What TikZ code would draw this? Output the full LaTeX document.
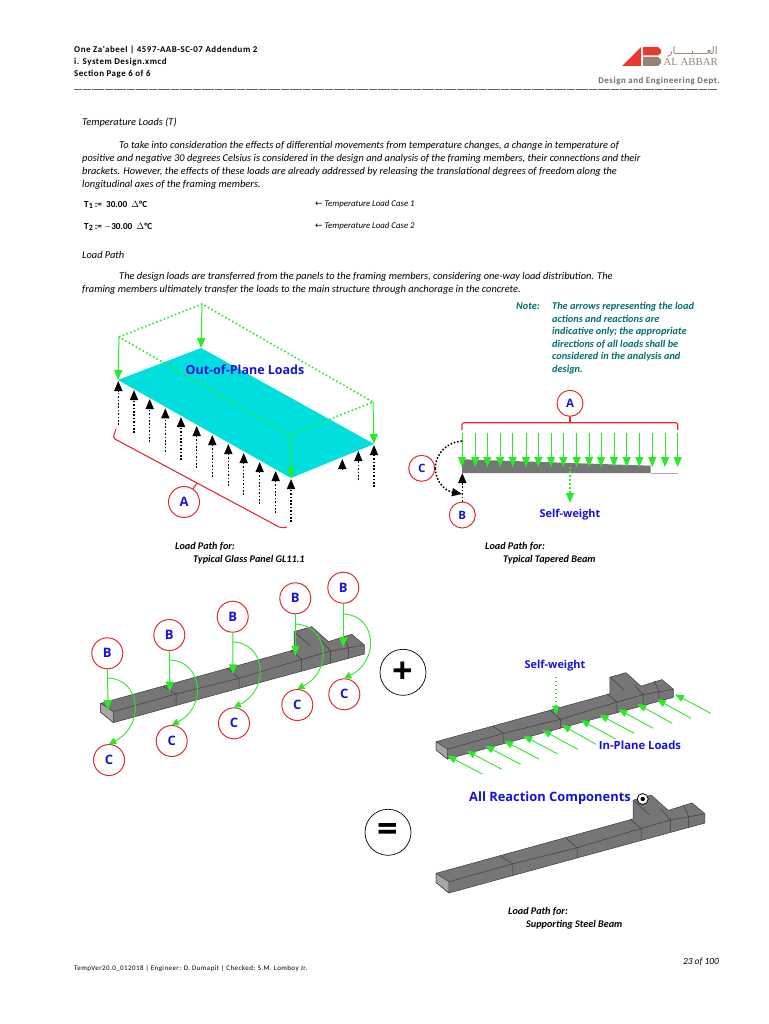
\documentclass[tikz,border=0pt]{standalone}
\usepackage{fontspec}
\usepackage{amsmath}
\usetikzlibrary{arrows.meta}
\setmainfont{Carlito}
\newfontfamily\headfont[LetterSpace=6]{Carlito}
\newfontfamily\labelfont{Open Sans}
\newfontfamily\logofont{Liberation Serif}
\newfontfamily\symfont{DejaVu Sans}
\newfontfamily\arabicfont[Script=Arabic]{DejaVu Sans}
\TeXXeTstate=1
\definecolor{inkblue}{RGB}{20,20,215}
\definecolor{bubblered}{RGB}{225,45,45}
\definecolor{loadgreen}{RGB}{40,235,40}
\definecolor{panelcyan}{RGB}{0,222,222}
\definecolor{steelgrey}{RGB}{118,118,118}
\definecolor{steelline}{RGB}{60,60,60}
\definecolor{noteteal}{RGB}{0,112,112}
\definecolor{logored}{RGB}{232,58,48}
\definecolor{logobrown}{RGB}{150,130,118}
\definecolor{depthint}{RGB}{110,110,110}
\tikzset{
  bodytext/.style={anchor=west, inner sep=0pt, yshift=-1pt, font=\fontsize{10.4}{12}\selectfont\itshape},
  headtext/.style={anchor=west, inner sep=0pt, yshift=-1pt, font=\fontsize{8.9}{10}\headfont\bfseries},
  calctext/.style={anchor=west, inner sep=0pt, font=\fontsize{9.2}{10}\selectfont\bfseries},
  casetext/.style={anchor=west, inner sep=0pt, yshift=-1pt, font=\fontsize{8.8}{10}\selectfont\itshape},
  notetext/.style={anchor=west, inner sep=0pt, yshift=-1pt, text=noteteal, font=\fontsize{10.3}{12}\selectfont\itshape\bfseries},
  pathtext/.style={anchor=west, inner sep=0pt, yshift=-1pt, font=\fontsize{10.2}{12}\selectfont\itshape\bfseries},
  bluetext/.style={inner sep=0pt, text=inkblue, font=\fontsize{10.9}{12}\labelfont\bfseries},
  bubble/.style={circle, draw=bubblered, line width=1pt, fill=white, minimum size=31pt, inner sep=0pt, text=inkblue, font=\fontsize{13}{14}\labelfont\bfseries},
  smallbubble/.style={bubble, minimum size=26pt, font=\fontsize{11.5}{12}\labelfont\bfseries},
  signcircle/.style={circle, draw=black, line width=0.7pt, minimum size=46pt, inner sep=0pt, font=\fontsize{36}{36}\labelfont\bfseries},
  redline/.style={draw=bubblered, line width=1.1pt, rounded corners=2pt},
  greendown/.style={draw=loadgreen, line width=1pt, -{Triangle[length=10pt,width=8pt]}},
  greendots/.style={draw=loadgreen, line width=1.6pt, dash pattern=on 1.6pt off 2.4pt},
  blackup/.style={draw=black, line width=1.5pt, dash pattern=on 1.6pt off 1.8pt, -{Triangle[length=10pt,width=8pt,fill=black]}},
  reaction/.style={draw=loadgreen, line width=0.9pt, -{Triangle[length=7pt,width=7pt]}},
  inplane/.style={draw=loadgreen, line width=0.9pt, -{Triangle[length=9pt,width=7pt]}},
  steelface/.style={fill=steelgrey, draw=steelline, line width=0.5pt, line join=round},
}
% one steel beam, measured from the upper corner of its open end
\newcommand{\steelbeam}{
  \path[steelface] (193.3,-71.7) -- (211,-76.7) -- (227.7,-61.7) -- (251,-69) -- (263.7,-58.3) -- (263.7,-49.3)
    -- (12.7,19.3) -- (0,9) -- (0,0) -- (193.3,-53.3) -- cycle;
  \path[draw=steelline, fill=steelgrey!65, line width=0.5pt] (0,0) -- (12.7,8.3) -- (12.7,19.3) -- (0,9) -- cycle;
  \draw[steelline, line width=0.5pt] (12.7,8.3) -- (75.3,-9.3) -- (138.3,-25) -- (201,-44) -- (230,-52.3) -- (263.7,-58.3);
  \draw[steelline, line width=0.5pt] (62.7,-17.3) -- (75.3,-9.3) -- (75.3,1.7);
  \draw[steelline, line width=0.5pt] (127,-35) -- (138.3,-25) -- (138.3,-15);
  \draw[steelline, line width=0.5pt] (190,-53.3) -- (201,-44) -- (201,-32.3);
  \draw[steelline, line width=0.5pt] (220,-63.3) -- (230,-52.3) -- (230,-40.7);
  \draw[steelline, line width=0.5pt] (242.7,-67.3) -- (247.7,-55.7) -- (247.7,-45);
  \draw[steelline, line width=0.5pt] (193.3,-71.7) -- (209.3,-57.3);
}

\begin{document}
\begin{tikzpicture}[x=1pt, y=-1pt]
\useasboundingbox[fill=white] (0,0) rectangle (768,1024);

% header
\node[headtext] (head1) at (74,49) {One Za'abeel | 4597-AAB-SC-07 Addendum 2};
\node[headtext] (head2) at (74,61) {i. System Design.xmcd};
\node[headtext] (head3) at (74,73) {Section Page 6 of 6};
\fill[logored] (622,66) -- (641,47) -- (641,66) -- cycle;
\fill[logored] (643,47) -- (658,47) -- (661,50) -- (661,53) -- (658,55.5) -- (643,55.5) -- cycle;
\fill[logobrown] (643,57) -- (658,57) -- (661,60) -- (661,63) -- (658,66) -- (643,66) -- cycle;
\node[inner sep=0pt, anchor=east, text=logobrown, font=\fontsize{10.5}{11}\arabicfont] (logoar) at (718,52) {\beginR العــــبـــــار\endR};
\node[inner sep=0pt, anchor=east, text=logobrown, font=\fontsize{10.8}{11}\logofont] (logoen) at (718,62) {AL ABBAR};
\node[inner sep=0pt, anchor=east, yshift=-1pt, text=depthint, font=\fontsize{8.9}{10}\headfont\bfseries] (dept) at (720,80) {Design and Engineering Dept.};
\draw[black!60, line width=1pt, dash pattern=on 4pt off 0.4pt] (74,90) -- (717,90);

% temperature loads
\node[bodytext] (temphead) at (82,122) {Temperature Loads (T)};
\node[bodytext] (para1) at (119,145) {To take into consideration the effects of differential movements from temperature changes, a change in temperature of};
\node[bodytext] (para2) at (82,158) {positive and negative 30 degrees Celsius is considered in the design and analysis of the framing members, their connections and their};
\node[bodytext] (para3) at (82,171) {brackets. However, the effects of these loads are already addressed by releasing the translational degrees of freedom along the};
\node[bodytext] (para4) at (82,184) {longitudinal axes of the framing members.};
\node[calctext] (t1) at (84,205) {T\raisebox{-1.5pt}{\footnotesize 1} := \ 30.00 \ $\Delta$°C};
\node[calctext] (t2) at (84,227) {T\raisebox{-1.5pt}{\footnotesize 2} := $-$30.00 \ $\Delta$°C};
\node[casetext] (case1) at (315,203) {{\symfont\upshape ←} Temperature Load Case 1};
\node[casetext] (case2) at (315,225) {{\symfont\upshape ←} Temperature Load Case 2};

% load path
\node[bodytext] (pathhead) at (82,254) {Load Path};
\node[bodytext] (para5) at (119,276) {The design loads are transferred from the panels to the framing members, considering one-way load distribution. The};
\node[bodytext] (para6) at (82,289) {framing members ultimately transfer the loads to the main structure through anchorage in the concrete.};
\node[notetext] (notehead) at (516,305.5) {Note:};
\node[notetext] (note1) at (552,305.5) {The arrows representing the load};
\node[notetext] (note2) at (552,318) {actions and reactions are};
\node[notetext] (note3) at (552,331) {indicative only; the appropriate};
\node[notetext] (note4) at (552,343.5) {directions of all loads shall be};
\node[notetext] (note5) at (552,356) {considered in the analysis and};
\node[notetext] (note6) at (552,369) {design.};

% glass panel
\draw[blackup] (342.3,470) -- (342.3,459);
\draw[blackup] (358.3,480) -- (358.3,451);
\draw[blackup] (374,487) -- (374,445);
\fill[panelcyan] (118,380) -- (201,348) -- (374,444) -- (291,478) -- cycle;
\draw[greendots] (119,337) -- (202,304) -- (373,402) -- (290,435) -- cycle;
\draw[greendown] (119,337) -- (118,380);
\draw[greendown] (202,304) -- (201,348);
\draw[greendown] (373,402) -- (374,444);
\draw[greendown] (290,435) -- (291,478);
\draw[blackup] (118.3,425) -- (118.3,381);
\draw[blackup] (134,433) -- (134,390);
\draw[blackup] (149.7,442) -- (149.7,399);
\draw[blackup] (165.3,451.7) -- (165.3,408.3);
\draw[blackup] (181,460) -- (181,417);
\draw[blackup] (196.7,468) -- (196.7,426);
\draw[blackup] (212.3,477) -- (212.3,435);
\draw[blackup] (228.3,486) -- (228.3,444);
\draw[blackup] (243.7,495) -- (243.7,453);
\draw[blackup] (259.7,504) -- (259.7,462);
\draw[blackup] (275.7,513) -- (275.7,471);
\draw[blackup] (291,522) -- (291,479);
\node[bluetext, font=\fontsize{12.5}{13}\labelfont\bfseries] (outplane) at (245,370) {Out-of-Plane Loads};
\node[bubble] (panelA) at (184,502) {A};
\coordinate (panelbrace) at (197,483);
\draw[redline] (116,429) -- (113,438) -- (panelbrace) -- (281,528) -- (287,527);
\draw[redline] (panelbrace) -- (panelA);
\node[pathtext] (panelpath1) at (175,546) {Load Path for:};
\node[pathtext] (panelpath2) at (193,559) {Typical Glass Panel GL11.1};

% tapered beam
\fill[steelgrey] (462,459.3) -- (650.7,465.7) -- (650.7,473) -- (462,473) -- cycle;
\draw[steelgrey!60, line width=0.7pt] (650.7,473) -- (677.7,473);
\draw[greendown] (462,432.7) -- (462,467);
\draw[greendown] (475.3,432.7) -- (475.3,467);
\draw[greendown] (487.3,432.7) -- (487.3,467);
\draw[greendown] (500,432.7) -- (500,467);
\draw[greendown] (512.7,432.7) -- (512.7,467);
\draw[greendown] (526,432.7) -- (526,467);
\draw[greendown] (538.3,432.7) -- (538.3,467);
\draw[greendown] (551,432.7) -- (551,467);
\draw[greendown] (563.3,432.7) -- (563.3,467);
\draw[greendown] (576.7,432.7) -- (576.7,467);
\draw[greendown] (589,432.7) -- (589,467);
\draw[greendown] (601,432.7) -- (601,467);
\draw[greendown] (614,432.7) -- (614,467);
\draw[greendown] (626.7,432.7) -- (626.7,467);
\draw[greendown] (639.3,432.7) -- (639.3,467);
\draw[greendown] (652.3,432.7) -- (652.3,467);
\draw[greendown] (665,432.7) -- (665,467);
\draw[greendown] (677.7,432.7) -- (677.7,467);
\node[smallbubble] (beamA) at (570,403.3) {A};
\node[smallbubble] (beamB) at (462.3,515) {B};
\node[smallbubble] (beamC) at (421.7,468.3) {C};
\coordinate (beambrace) at (570,422.7);
\coordinate (beamseat) at (462.3,473);
\coordinate (beamtop) at (462,441);
\coordinate (beamside) at (462,494);
\draw[redline] (462,430) -- (462,422.7) -- (677.7,422.7) -- (677.7,430);
\draw[redline] (beamA) -- (beambrace);
\draw[blackup] (beamB) -- (beamseat);
\draw[draw=black, line width=1.5pt, dash pattern=on 1.6pt off 1.8pt] (beamtop) .. controls (448,442) and (436,452) .. (beamC.east);
\draw[blackup] (beamC.east) .. controls (436,483) and (446,491) .. (beamside);
\draw[greendots, -{Triangle[length=10pt,width=8pt]}] (570,467) -- (570,503);
\node[bluetext] (beamweight) at (570,515) {Self-weight};
\node[pathtext] (beampath1) at (485,546) {Load Path for:};
\node[pathtext] (beampath2) at (503,559) {Typical Tapered Beam};

% framing member with reactions
\begin{scope}[shift={(100.7,703.3)}]
\steelbeam
\end{scope}
\node[bubble] (b1) at (107.3,653.3) {B};
\node[bubble] (b2) at (169.3,635) {B};
\node[bubble] (b3) at (232.7,616.7) {B};
\node[bubble] (b4) at (295.3,598.3) {B};
\node[bubble] (b5) at (343.3,587.7) {B};
\node[bubble] (c1) at (109,760) {C};
\node[bubble] (c2) at (171.7,741) {C};
\node[bubble] (c3) at (234,723.3) {C};
\node[bubble] (c4) at (297.3,705) {C};
\node[bubble] (c5) at (344.3,694.3) {C};
\coordinate (seat1) at (108,710);
\coordinate (seat2) at (169.7,691.7);
\coordinate (seat3) at (233,674.3);
\coordinate (seat4) at (295.3,656);
\coordinate (seat5) at (343.3,647.3);
\coordinate (turn1) at (108,678);
\coordinate (turn2) at (169.7,660);
\coordinate (turn3) at (233,642);
\coordinate (turn4) at (295.3,624);
\coordinate (turn5) at (343.3,614);
\draw[greendown] (b1) -- (seat1);
\draw[greendown] (b2) -- (seat2);
\draw[greendown] (b3) -- (seat3);
\draw[greendown] (b4) -- (seat4);
\draw[greendown] (b5) -- (seat5);
\draw[reaction] (turn1) .. controls +(33,1) and +(36,-18) .. (c1.north);
\draw[reaction] (turn2) .. controls +(33,1) and +(36,-18) .. (c2.north);
\draw[reaction] (turn3) .. controls +(33,1) and +(36,-18) .. (c3.north);
\draw[reaction] (turn4) .. controls +(33,1) and +(36,-18) .. (c4.north);
\draw[reaction] (turn5) .. controls +(33,1) and +(36,-18) .. (c5.north);

% plus and equals
\node[signcircle] (plus) at (403,672.3) {+};
\node[signcircle] (equals) at (388,832.3) {=};

% self-weight and in-plane loads
\begin{scope}[shift={(436,741.7)}, scale=0.9]
\steelbeam
\end{scope}
\node[bluetext] (inweight) at (555,665.3) {Self-weight};
\draw[greendots, -{Triangle[length=9pt,width=7pt]}] (555.7,676.7) -- (555.7,715);
\draw[inplane] (482.3,774) -- (447.3,755.7);
\draw[inplane] (501.7,769.3) -- (466.7,750.7);
\draw[inplane] (520.7,764.3) -- (485,745.7);
\draw[inplane] (539,759) -- (504,740.7);
\draw[inplane] (557.7,754) -- (523.3,735.7);
\draw[inplane] (577.7,749.3) -- (542.3,730);
\draw[inplane] (596,744.3) -- (561.7,725);
\draw[inplane] (615.7,739) -- (580.7,720);
\draw[inplane] (634.3,733.3) -- (599.3,714.7);
\draw[inplane] (653.3,728.3) -- (618.3,709.3);
\draw[inplane] (672.3,723.3) -- (637.3,704);
\draw[inplane] (691,718.3) -- (656.7,699.3);
\draw[inplane] (710.7,713.3) -- (675,694.3);
\node[bluetext, font=\fontsize{11.3}{12}\labelfont\bfseries] (inplanelabel) at (640,745.3) {In-Plane Loads};

% supporting steel beam
\begin{scope}[shift={(436,873.3)}, scale=1.02]
\steelbeam
\end{scope}
\node[bluetext, font=\fontsize{12.9}{13}\labelfont\bfseries] (allreact) at (550,798.3) {All Reaction Components};
\node[circle, draw=black, line width=0.8pt, fill=white, minimum size=11pt, inner sep=0pt] (outof) at (642.7,799) {};
\fill[black] (outof.center) circle (2.2pt);
\node[pathtext] (steelpath1) at (508,911) {Load Path for:};
\node[pathtext] (steelpath2) at (526,924) {Supporting Steel Beam};

% footer
\node[anchor=west, inner sep=0pt, font=\fontsize{7}{8}\headfont] (foot) at (74,969) {TempVer20.0\_012018 | Engineer: D. Dumapit | Checked: S.M. Lomboy Jr.};
\node[anchor=east, inner sep=0pt, font=\fontsize{9.4}{10}\selectfont\itshape] (pagenum) at (719,962) {23 of 100};
\end{tikzpicture}
\end{document}
